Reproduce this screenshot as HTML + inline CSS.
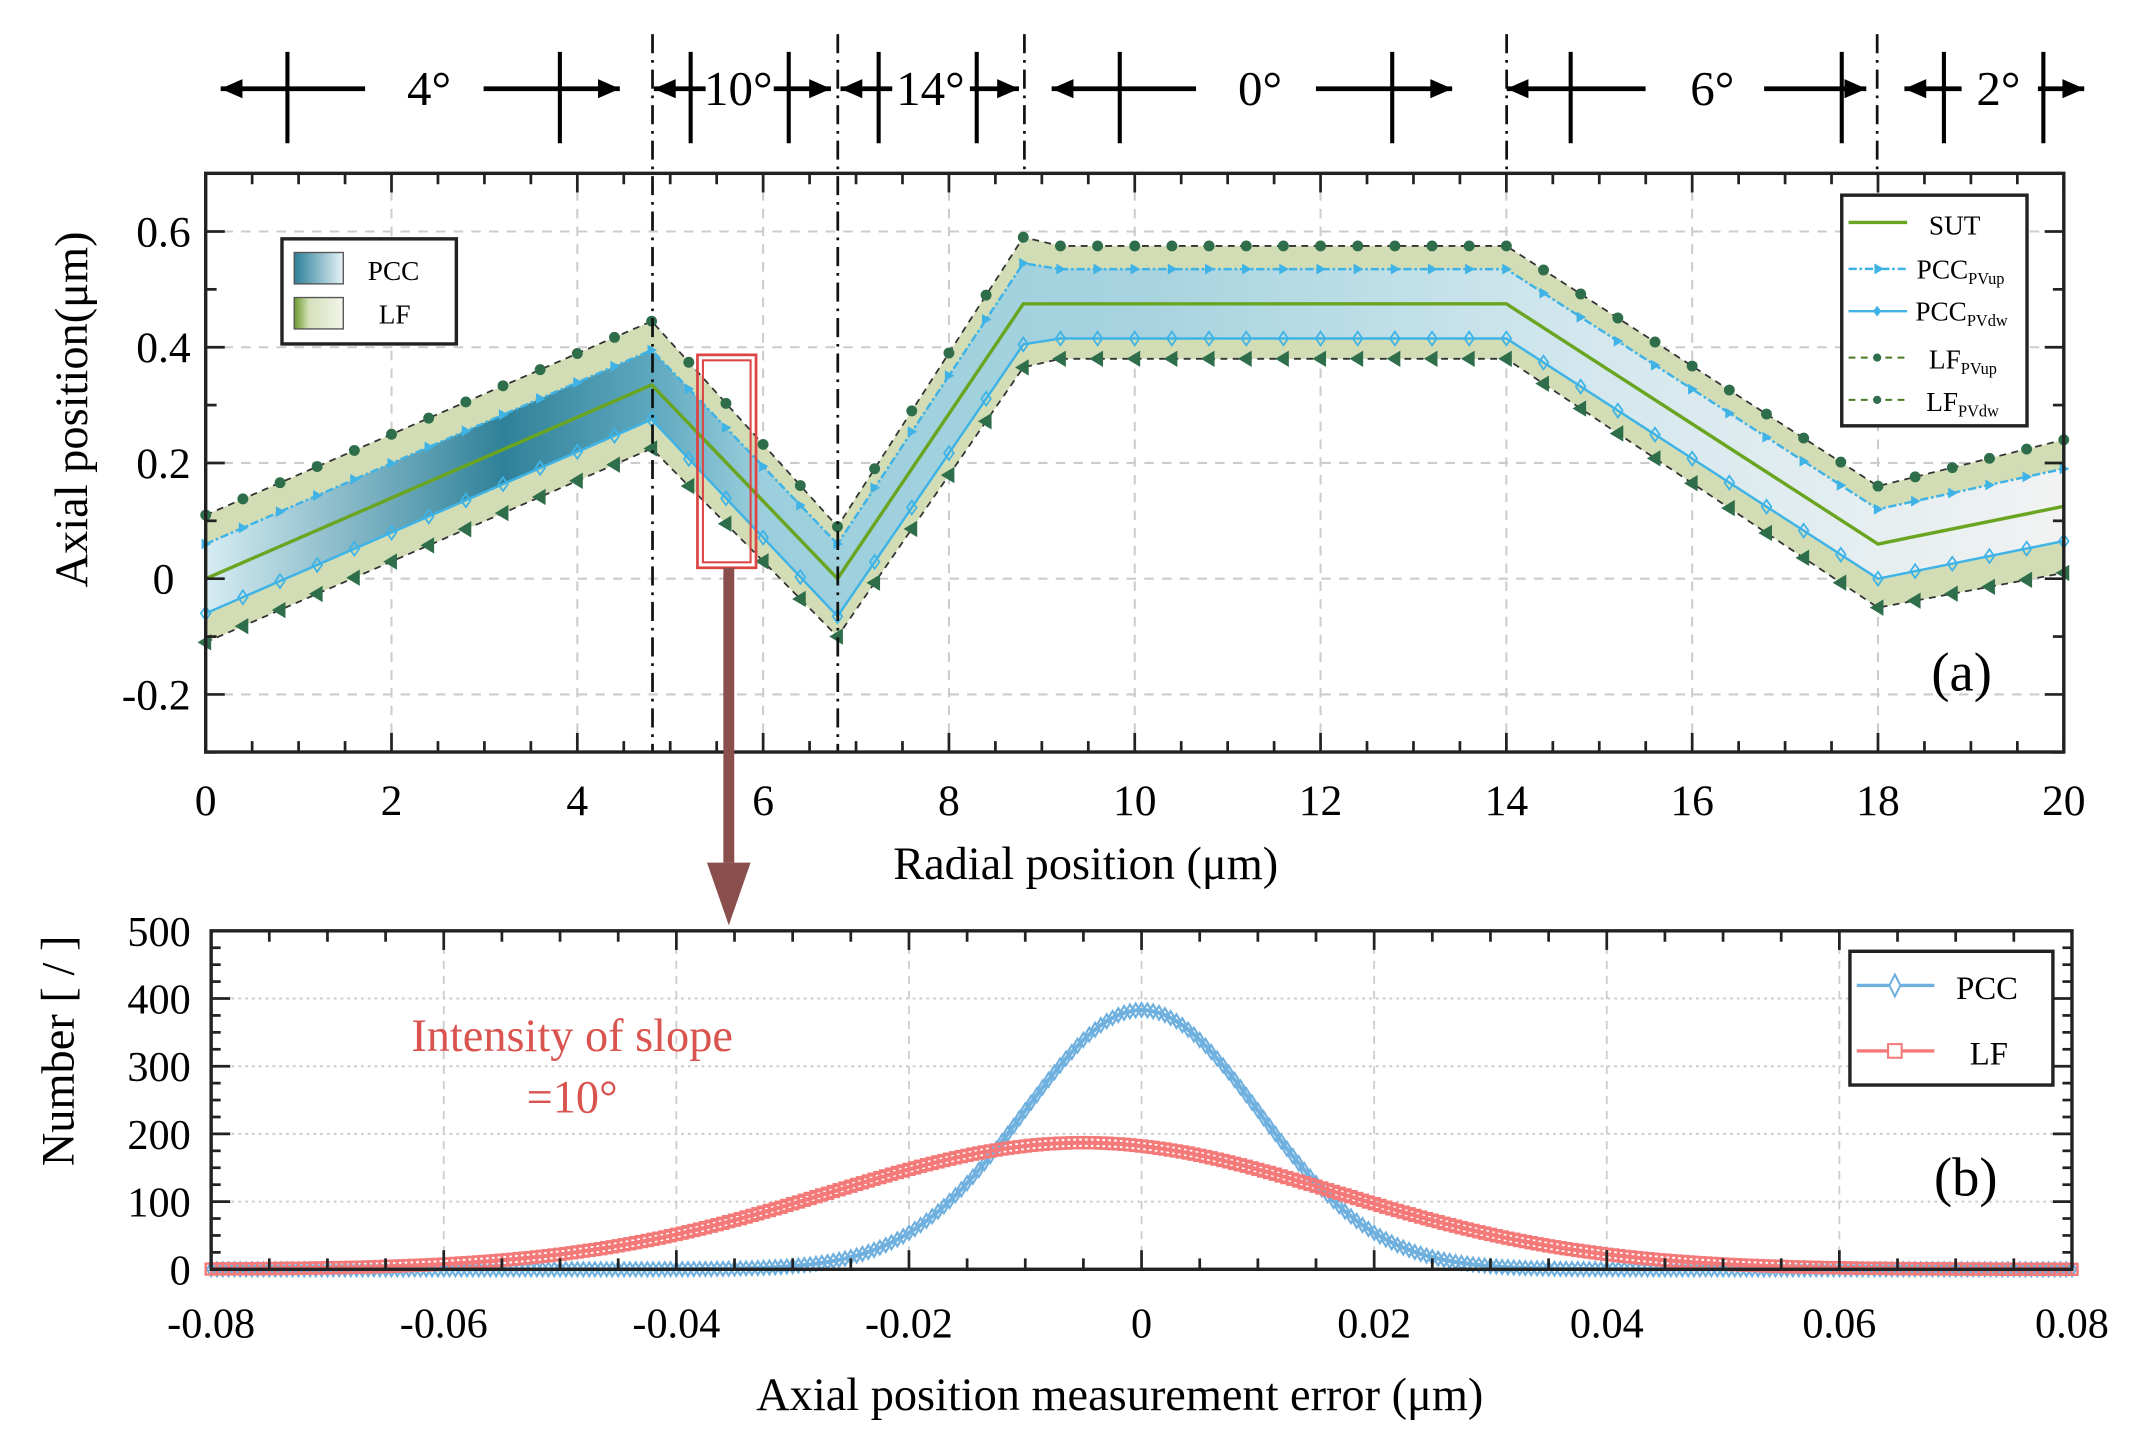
<!DOCTYPE html>
<html><head><meta charset="utf-8"><style>
html,body{margin:0;padding:0;background:#fff;}
svg{display:block;font-family:"Liberation Serif",serif;}
</style></head><body>
<svg id="s" width="2136" height="1444" viewBox="0 0 1568 1058" preserveAspectRatio="none" xmlns="http://www.w3.org/2000/svg">
<defs>
<linearGradient id="pg" x1="151" x2="1515" y1="0" y2="0" gradientUnits="userSpaceOnUse">
<stop offset="0" stop-color="#d6ecf2"/>
<stop offset="0.16" stop-color="#2f8199"/>
<stop offset="0.24" stop-color="#5ea8be"/>
<stop offset="0.3" stop-color="#9ccfdd"/>
<stop offset="0.5" stop-color="#a6d3df"/>
<stop offset="0.75" stop-color="#d4e8ee"/>
<stop offset="1" stop-color="#f2f2f2"/>
</linearGradient>
<linearGradient id="lg1" x1="0" x2="1" y1="0" y2="0"><stop offset="0" stop-color="#2c7f98"/><stop offset="1" stop-color="#e6f3f7"/></linearGradient>
<linearGradient id="lg2" x1="0" x2="1" y1="0" y2="0"><stop offset="0" stop-color="#6a9a2a"/><stop offset="0.3" stop-color="#d5e0bb"/><stop offset="1" stop-color="#f2f5ea"/></linearGradient>
</defs>
<g id="g"></g>
</svg>
<script>
var g=document.getElementById('g'),h='';
function X(v){return 151+v*68.2;}function Y(v){return 424-v*424;}
function pts(a){return a.map(function(p){return X(p[0]).toFixed(1)+','+Y(p[1]).toFixed(1);}).join(' ');}
function interp(a,x){for(var i=0;i<a.length-1;i++){if(x>=a[i][0]-1e-9&&x<=a[i+1][0]+1e-9){var t=(x-a[i][0])/(a[i+1][0]-a[i][0]);return a[i][1]+t*(a[i+1][1]-a[i][1]);}}return a[a.length-1][1];}
var SUT=[[0,0],[4.8,0.335],[6.8,0],[8.8,0.475],[14,0.475],[18,0.06],[20,0.125]];
var PU=[[0,0.06],[4.8,0.395],[6.8,0.06],[8.8,0.545],[9.2,0.535],[14,0.535],[18,0.12],[20,0.19]];
var PD=[[0,-0.06],[4.8,0.275],[6.8,-0.065],[8.8,0.405],[9.2,0.415],[14,0.415],[18,0.0],[20,0.065]];
var LU=[[0,0.11],[4.8,0.445],[6.8,0.09],[8.8,0.59],[9.2,0.575],[14,0.575],[18,0.16],[20,0.24]];
var LD=[[0,-0.11],[4.8,0.225],[6.8,-0.10],[8.8,0.365],[9.2,0.38],[14,0.38],[18,-0.05],[20,0.01]];
for(var i=2;i<20;i+=2)h+='<line x1="'+X(i)+'" x2="'+X(i)+'" y1="127" y2="551" stroke="#ccc" stroke-dasharray="7,6" stroke-width="1.5"/>';
[0.6,0.4,0.2,0,-0.2].forEach(function(v){h+='<line x1="151" x2="1515" y1="'+Y(v)+'" y2="'+Y(v)+'" stroke="#ccc" stroke-dasharray="7,6" stroke-width="1.5"/>';});
h+='<polygon points="'+pts(LU)+' '+pts(LD.slice().reverse())+'" fill="#d2ddb5"/>';
h+='<polygon points="'+pts(PU)+' '+pts(PD.slice().reverse())+'" fill="url(#pg)"/>';
h+='<polyline points="'+pts(SUT)+'" fill="none" stroke="#6aa521" stroke-width="2.5"/>';
h+='<polyline points="'+pts(PU)+'" fill="none" stroke="#3fb3e6" stroke-width="1.8" stroke-dasharray="6,2,2,2"/>';
h+='<polyline points="'+pts(PD)+'" fill="none" stroke="#3fb3e6" stroke-width="1.8"/>';
h+='<polyline points="'+pts(LU)+'" fill="none" stroke="#333" stroke-width="1.3" stroke-dasharray="5,4"/>';
h+='<polyline points="'+pts(LD)+'" fill="none" stroke="#333" stroke-width="1.3" stroke-dasharray="5,4"/>';
for(var x=0;x<=20.001;x+=0.4){
 var xx=X(x);
 var yu=Y(interp(LU,x)),yd=Y(interp(LD,x)),pu=Y(interp(PU,x)),pd=Y(interp(PD,x));
 h+='<circle cx="'+xx+'" cy="'+yu+'" r="4" fill="#2f6e4a"/>';
 h+='<polygon points="'+(xx-6)+','+yd+' '+(xx+4)+','+(yd-6)+' '+(xx+4)+','+(yd+6)+'" fill="#2f6e4a"/>';
 h+='<polygon points="'+(xx-3)+','+(pu-4)+' '+(xx+4)+','+pu+' '+(xx-3)+','+(pu+4)+'" fill="#3fb3e6"/>';
 h+='<polygon points="'+xx+','+(pd-5)+' '+(xx+3.5)+','+pd+' '+xx+','+(pd+5)+' '+(xx-3.5)+','+pd+'" fill="none" stroke="#3fb3e6" stroke-width="1.3"/>';
}
[479,615,752,1106,1378].forEach(function(x,i){var y2=(i<2)?551:127;h+='<line x1="'+x+'" x2="'+x+'" y1="25" y2="'+y2+'" stroke="#111" stroke-width="2" stroke-dasharray="14,5,2,5"/>';});
h+='<rect x="151" y="127" width="1364" height="424" fill="none" stroke="#222" stroke-width="2.5"/>';
for(var x=0;x<=20.001;x+=0.5){var maj=Math.abs(x%2)<1e-6;var L=maj?14:8;h+='<line x1="'+X(x)+'" x2="'+X(x)+'" y1="551" y2="'+(551-L)+'" stroke="#222" stroke-width="2"/><line x1="'+X(x)+'" x2="'+X(x)+'" y1="127" y2="'+(127+L)+'" stroke="#222" stroke-width="2"/>';if(maj)h+='<text x="'+X(x)+'" y="597" font-size="32" text-anchor="middle">'+x+'</text>';}
for(var v=-0.3;v<=0.701;v+=0.1){var maj=Math.abs(Math.round(v*10)%2)==0;var L=maj?14:8;h+='<line x1="151" x2="'+(151+L)+'" y1="'+Y(v)+'" y2="'+Y(v)+'" stroke="#222" stroke-width="2"/><line x1="1515" x2="'+(1515-L)+'" y1="'+Y(v)+'" y2="'+Y(v)+'" stroke="#222" stroke-width="2"/>';}
[[0.6,'0.6'],[0.4,'0.4'],[0.2,'0.2'],[0,'0'],[-0.2,'-0.2']].forEach(function(p){h+='<text x="'+(p[1]=='0'?128:140)+'" y="'+(Y(p[0])+11)+'" font-size="32" text-anchor="end">'+p[1]+'</text>';});
h+='<text x="797" y="644" font-size="34" text-anchor="middle">Radial position (μm)</text>';
h+='<text transform="translate(64,300) rotate(-90)" font-size="34" text-anchor="middle">Axial position(μm)</text>';
h+='<text x="1440" y="506" font-size="40" text-anchor="middle">(a)</text>';
function seg(a,b,t1,t2,tx,lab,l1,l2){h+='<line x1="'+a+'" x2="'+l1+'" y1="65" y2="65" stroke="#000" stroke-width="3.5"/><line x1="'+l2+'" x2="'+b+'" y1="65" y2="65" stroke="#000" stroke-width="3.5"/>';
h+='<polygon points="'+a+',65 '+(a+16)+',58 '+(a+16)+',72" fill="#000"/><polygon points="'+b+',65 '+(b-16)+',58 '+(b-16)+',72" fill="#000"/>';
h+='<line x1="'+t1+'" x2="'+t1+'" y1="38" y2="105" stroke="#000" stroke-width="3"/><line x1="'+t2+'" x2="'+t2+'" y1="38" y2="105" stroke="#000" stroke-width="3"/>';
h+='<text x="'+tx+'" y="77" font-size="36" text-anchor="middle">'+lab+'</text>';}
seg(162,455,211,411,315,'4°',268,355);
seg(480,610,507,579,542,'10°',518,568);
seg(617,748,645,717,683,'14°',655,712);
seg(772,1066,822,1022,925,'0°',878,966);
seg(1106,1370,1153,1352,1257,'6°',1208,1295);
seg(1398,1530,1427,1500,1467,'2°',1440,1496);
h+='<rect x="207" y="175" width="128" height="77" fill="#fff" stroke="#222" stroke-width="2.5"/>';
h+='<rect x="216" y="185" width="36" height="23" fill="url(#lg1)" stroke="#555"/><text x="270" y="205" font-size="20">PCC</text>';
h+='<rect x="216" y="218" width="36" height="23" fill="url(#lg2)" stroke="#555"/><text x="278" y="237" font-size="20">LF</text>';
h+='<rect x="1352" y="143" width="136" height="169" fill="#fff" stroke="#222" stroke-width="2.5"/>';
h+='<line x1="1357" x2="1400" y1="163" y2="163" stroke="#6aa521" stroke-width="2.5"/><text x="1416" y="172" font-size="20">SUT</text>';
h+='<line x1="1357" x2="1400" y1="197" y2="197" stroke="#3fb3e6" stroke-width="1.8" stroke-dasharray="6,2,2,2"/><polygon points="1376,193 1383,197 1376,201" fill="#3fb3e6"/><text x="1407" y="204" font-size="20">PCC<tspan font-size="12" dy="4">PVup</tspan></text>';
h+='<line x1="1357" x2="1400" y1="228" y2="228" stroke="#3fb3e6" stroke-width="1.8"/><polygon points="1378,224 1381,228 1378,232 1375,228" fill="#3fb3e6"/><text x="1406" y="235" font-size="20">PCC<tspan font-size="12" dy="4">PVdw</tspan></text>';
h+='<line x1="1357" x2="1400" y1="262" y2="262" stroke="#4a7a20" stroke-width="1.5" stroke-dasharray="5,4"/><circle cx="1378" cy="262" r="3" fill="#2f6e4a"/><text x="1416" y="270" font-size="20">LF<tspan font-size="12" dy="4">PVup</tspan></text>';
h+='<line x1="1357" x2="1400" y1="293" y2="293" stroke="#4a7a20" stroke-width="1.5" stroke-dasharray="5,4"/><circle cx="1378" cy="293" r="3" fill="#2f6e4a"/><text x="1414" y="301" font-size="20">LF<tspan font-size="12" dy="4">PVdw</tspan></text>';
h+='<rect x="512" y="260" width="43" height="156" fill="none" stroke="#d44" stroke-width="2"/><rect x="516" y="264" width="35" height="148" fill="none" stroke="#d44" stroke-width="1.5"/>';
h+='<rect x="531" y="416" width="8" height="216" fill="#8a4f4c"/><polygon points="519,632 551,632 535,678" fill="#8a4f4c"/>';
function BX(v){return 838+v*(1366/0.16);}function BY(v){return 930-v*248/500;}
for(var v=-0.06;v<0.07;v+=0.02){h+='<line x1="'+BX(v)+'" x2="'+BX(v)+'" y1="682" y2="930" stroke="#ccc" stroke-dasharray="6,5" stroke-width="1.3"/>';}
[100,200,300,400].forEach(function(v){h+='<line x1="155" x2="1521" y1="'+BY(v)+'" y2="'+BY(v)+'" stroke="#ccc" stroke-dasharray="2,3" stroke-width="1.5"/>';});
var pc='',lf='',pm='',lm='';
for(var x=-0.08;x<=0.0801;x+=0.0005){var p=383*Math.exp(-0.5*Math.pow(x/0.0101,2));var l=187*Math.exp(-0.5*Math.pow((x+0.005)/0.0218,2));pc+=BX(x).toFixed(1)+','+BY(p).toFixed(1)+' ';lf+=BX(x).toFixed(1)+','+BY(l).toFixed(1)+' ';
pm+='<polygon points="'+BX(x).toFixed(1)+','+(BY(p)-5).toFixed(1)+' '+(BX(x)+3).toFixed(1)+','+BY(p).toFixed(1)+' '+BX(x).toFixed(1)+','+(BY(p)+5).toFixed(1)+' '+(BX(x)-3).toFixed(1)+','+BY(p).toFixed(1)+'" fill="none" stroke="#6fb0de" stroke-width="1.6"/>';
lm+='<rect x="'+(BX(x)-4).toFixed(1)+'" y="'+(BY(l)-4).toFixed(1)+'" width="8" height="8" fill="none" stroke="#f47a7a" stroke-width="1.8"/>';}
h+='<polyline points="'+pc+'" fill="none" stroke="#6fb0de" stroke-width="3"/>'+pm;
h+='<polyline points="'+lf+'" fill="none" stroke="#f47a7a" stroke-width="3"/>'+lm;
h+='<rect x="155" y="682" width="1366" height="248" fill="none" stroke="#222" stroke-width="2.5"/>';
for(var i=0;i<=32;i++){var v=-0.08+i*0.005;var maj=i%4==0;var L=maj?14:8;h+='<line x1="'+BX(v)+'" x2="'+BX(v)+'" y1="930" y2="'+(930-L)+'" stroke="#222" stroke-width="2"/><line x1="'+BX(v)+'" x2="'+BX(v)+'" y1="682" y2="'+(682+L)+'" stroke="#222" stroke-width="2"/>';
if(maj){var s=(Math.round(v*100)/100).toString();h+='<text x="'+BX(v)+'" y="980" font-size="31" text-anchor="middle">'+s+'</text>';}}
for(var v=0;v<=500;v+=25){var maj=v%100==0;var L=maj?14:7;h+='<line x1="155" x2="'+(155+L)+'" y1="'+BY(v)+'" y2="'+BY(v)+'" stroke="#222" stroke-width="2"/><line x1="1521" x2="'+(1521-L)+'" y1="'+BY(v)+'" y2="'+BY(v)+'" stroke="#222" stroke-width="2"/>';
if(maj)h+='<text x="140" y="'+(BY(v)+11)+'" font-size="31" text-anchor="end">'+v+'</text>';}
h+='<text x="822" y="1033" font-size="34" text-anchor="middle">Axial position measurement error (μm)</text>';
h+='<text transform="translate(54,770) rotate(-90)" font-size="34" text-anchor="middle">Number [ / ]</text>';
h+='<text x="420" y="770" font-size="34" fill="#d9534f" text-anchor="middle">Intensity of slope</text><text x="420" y="815" font-size="34" fill="#d9534f" text-anchor="middle">=10°</text>';
h+='<text x="1443" y="876" font-size="40" text-anchor="middle">(b)</text>';
h+='<rect x="1358" y="697" width="149" height="98" fill="#fff" stroke="#222" stroke-width="2.5"/>';
h+='<line x1="1363" x2="1420" y1="722" y2="722" stroke="#6fb0de" stroke-width="2.5"/><polygon points="1391,714 1395,722 1391,730 1387,722" fill="#fff" stroke="#6fb0de" stroke-width="1.5"/><text x="1436" y="732" font-size="24">PCC</text>';
h+='<line x1="1363" x2="1420" y1="770" y2="770" stroke="#f47a7a" stroke-width="2.5"/><rect x="1386" y="765" width="10" height="10" fill="#fff" stroke="#f47a7a" stroke-width="1.5"/><text x="1446" y="780" font-size="24">LF</text>';
g.innerHTML=h;
</script>
</body></html>
